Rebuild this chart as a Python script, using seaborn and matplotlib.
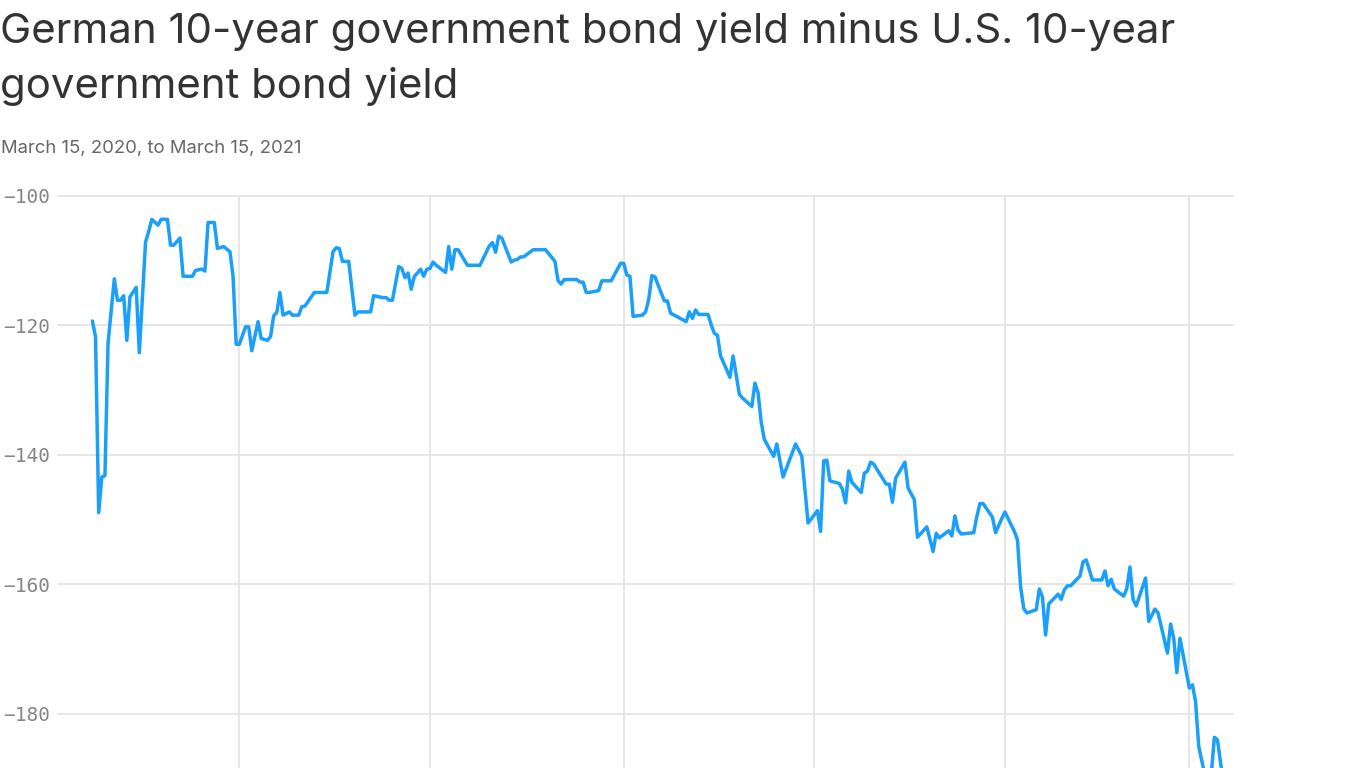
import pandas as pd
import numpy as np
import seaborn as sns
import matplotlib.pyplot as plt
import matplotlib.dates as mdates

# days after 2020-03-15
days = [0, 1, 2, 3, 4, 5, 7, 8, 9, 10, 11, 12, 14, 15, 16, 17, 18, 19, 21, 22,
        24, 25, 26, 28, 29, 32, 33, 35, 36, 37, 39, 40, 42, 43, 44, 45, 46, 47, 49, 50,
        51, 53, 54, 56, 57, 58, 59, 60, 61, 63, 64, 66, 67, 68, 71, 75, 77, 78, 79, 80,
        82, 84, 85, 89, 90, 93, 94, 95, 96, 98, 99, 100, 101, 102, 103, 104, 105, 106, 107, 108,
        109, 110, 113, 114, 115, 116, 117, 120, 124, 127, 128, 129, 130, 131, 134, 135, 136, 137, 138, 141,
        145, 148, 149, 150, 151, 155, 156, 157, 158, 159, 162, 163, 166, 169, 170, 171, 172, 173, 176, 177,
        178, 179, 180, 183, 184, 185, 190, 191, 192, 193, 194, 197, 198, 199, 200, 201, 204, 205, 207, 208,
        211, 212, 213, 214, 215, 218, 219, 221, 225, 227, 229, 232, 233, 234, 235, 236, 239, 240, 241, 242,
        243, 246, 247, 248, 249, 250, 254, 255, 256, 257, 260, 261, 263, 264, 267, 269, 270, 271, 274, 275,
        276, 277, 278, 282, 283, 284, 285, 288, 289, 291, 292, 295, 296, 297, 298, 299, 302, 303, 304, 305,
        306, 309, 310, 311, 312, 313, 316, 317, 318, 320, 323, 324, 325, 326, 327, 330, 331, 332, 333, 334,
        337, 338, 340, 341, 344, 345, 346, 347, 348, 351, 352, 353, 354, 356, 358, 359, 360, 362]

# basis points
spread = [-119.3, -121.8, -148.9, -143.4, -143.2, -122.7, -112.8, -116.1, -116.1, -115.4,
          -122.3, -115.6, -114.1, -124.2, -115.5, -107.1, -105.5, -103.6, -104.5, -103.6,
          -103.6, -107.6, -107.6, -106.5, -112.4, -112.4, -111.5, -111.3, -111.6, -104.1,
          -104.1, -108.1, -107.8, -108.2, -108.6, -112.4, -122.9, -122.9, -120.2, -120.2,
          -123.9, -119.4, -122.0, -122.3, -121.7, -118.5, -118.0, -114.9, -118.4, -117.9,
          -118.4, -118.4, -117.1, -117.0, -114.9, -114.9, -108.6, -108.0, -108.1, -110.1,
          -110.1, -118.4, -117.9, -117.9, -115.4, -115.7, -115.7, -116.1, -116.1, -110.9,
          -111.2, -112.6, -111.9, -114.4, -112.4, -111.9, -111.3, -112.4, -111.3, -111.2,
          -110.2, -110.7, -111.8, -107.8, -111.3, -108.3, -108.3, -110.7, -110.7, -107.7,
          -107.2, -108.7, -106.2, -106.5, -110.2, -109.9, -109.8, -109.4, -109.4, -108.3,
          -108.3, -110.1, -113.1, -113.6, -112.9, -112.9, -113.3, -113.3, -114.9, -114.9,
          -114.6, -113.1, -113.1, -110.4, -110.4, -112.2, -112.4, -118.6, -118.4, -117.9,
          -116.0, -112.3, -112.5, -116.2, -116.2, -118.1, -119.4, -117.9, -118.9, -117.6,
          -118.3, -118.3, -119.9, -121.2, -121.5, -124.7, -128.0, -124.7, -130.6, -131.2,
          -132.5, -128.9, -130.4, -134.9, -137.6, -140.2, -138.3, -143.4, -138.3, -140.2,
          -150.5, -148.6, -151.8, -140.9, -140.8, -144.0, -144.4, -145.3, -147.4, -142.5,
          -144.2, -145.8, -142.8, -142.5, -141.1, -141.4, -144.5, -144.5, -147.3, -143.6,
          -141.1, -145.1, -146.9, -152.7, -151.1, -154.9, -152.1, -152.8, -151.7, -152.5,
          -149.4, -151.6, -152.2, -152.0, -149.5, -147.5, -147.5, -149.6, -152.0, -149.8,
          -148.8, -151.8, -153.1, -160.3, -163.7, -164.4, -163.9, -160.7, -161.9, -167.8,
          -163.0, -161.5, -162.3, -160.8, -160.2, -160.2, -158.7, -156.5, -156.2, -159.3,
          -159.3, -157.9, -160.2, -159.2, -160.7, -161.8, -160.6, -157.3, -162.3, -163.3,
          -159.0, -165.7, -163.8, -164.4, -170.6, -166.1, -168.3, -173.6, -168.3, -176.0,
          -175.5, -178.1, -185.0, -189.5, -189.5, -183.6, -184.0, -191.0]

y_ticks = [-180, -160, -140, -120, -100]

title = "German 10-year government bond yield minus U.S. 10-year\ngovernment bond yield"
subtitle = "March 15, 2020, to March 15, 2021"

df = pd.DataFrame({
    "date": pd.Timestamp("2020-03-15") + pd.to_timedelta(days, unit="D"),
    "spread": spread,
})

sns.set_theme(style="whitegrid")
plt.rcParams["font.family"] = ["Inter", "DejaVu Sans"]

fig = plt.figure(figsize=(13.66, 7.68), dpi=100)
# the chart runs off the bottom of the image, like the reference
ax = fig.add_axes([0.0425, -0.0983, 0.8602, 0.8431])

sns.lineplot(data=df, x="date", y="spread", color="#1a9ffa", linewidth=2.5, ax=ax)

ax.set_ylim(-200, -100)
ax.set_yticks(y_ticks)
ax.set_xlim(pd.Timestamp("2020-03-04"), pd.Timestamp("2021-03-15"))
ax.xaxis.set_major_locator(mdates.MonthLocator(bymonth=[1, 3, 5, 7, 9, 11]))
ax.set_xlabel("")
ax.set_ylabel("")

ax.grid(True, color="#e2e2e2", linewidth=1.2)
for gl in ax.get_ygridlines():
    gl.set_clip_on(False)
for s in ax.spines.values():
    s.set_visible(False)
ax.tick_params(axis="both", length=0)
ax.tick_params(axis="x", labelbottom=False)
ax.tick_params(axis="y", pad=6, labelsize=14, labelcolor="#858585")
for lab in ax.get_yticklabels():
    lab.set_fontfamily("DejaVu Sans Mono")

fig.text(0.0, 1 - 12 / 768, title, ha="left", va="top", fontsize=30.2,
         color="#333333", linespacing=1.5)
fig.text(0.001, 1 - 148 / 768, subtitle, ha="left", va="center", fontsize=13.3,
         color="#666666")

fig.savefig("out.png", dpi=100)
